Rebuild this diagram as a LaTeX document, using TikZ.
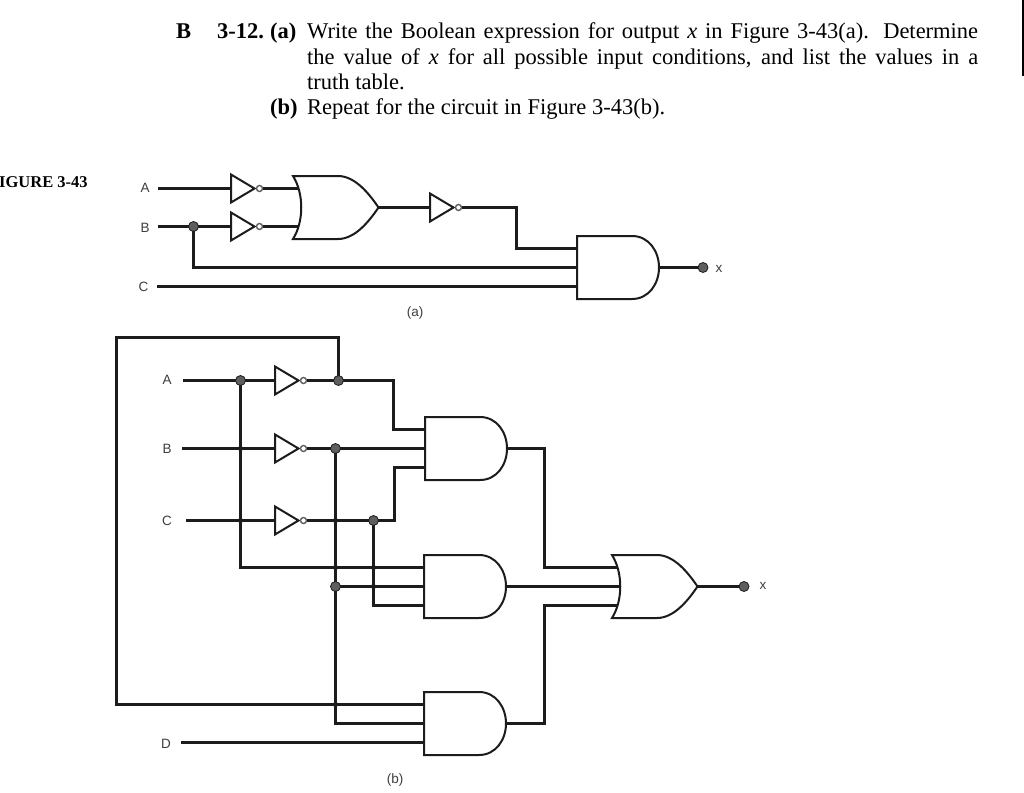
\documentclass[tikz,border=0pt]{standalone}
\usepackage{fontspec}
\setmainfont{Liberation Serif}
\newfontfamily\lblfont{Liberation Sans}
\definecolor{ink}{HTML}{1C1C1C}
\definecolor{dotgray}{HTML}{5E5E5E}
\tikzset{
  wire/.style={draw=ink,line width=2.6pt,line join=miter},
  gateline/.style={draw=ink,line width=2pt,fill=white,line join=miter},
  bigdot/.style={circle,inner sep=0pt,minimum size=11pt},
  smalldot/.style={circle,fill=ink,inner sep=0pt,minimum size=5pt},
  bubble/.style={draw=dotgray,line width=1.4pt,fill=white},
  lbl/.style={font=\lblfont\fontsize{13.5}{15}\selectfont,text=ink!85,inner sep=0pt},
  body/.style={font=\fontsize{22.5}{26}\selectfont,text=black,inner sep=0pt,anchor=base west}
}
% name, left x, centre y
\newcommand{\andgate}[3]{%
  \draw[gateline] (#2,#3-31.5) -- (#2+55,#3-31.5)
    .. controls (#2+72,#3-31.5) and (#2+82,#3-16) .. (#2+82,#3)
    .. controls (#2+82,#3+16) and (#2+72,#3+31.5) .. (#2+55,#3+31.5)
    -- (#2,#3+31.5) -- cycle;
  \coordinate (#1-i1) at (#2,#3-19);
  \coordinate (#1-i2) at (#2,#3);
  \coordinate (#1-i3) at (#2,#3+19);
  \coordinate (#1-o) at (#2+82,#3);}
\newcommand{\orgate}[3]{%
  \draw[gateline] (#2,#3-31.5) -- (#2+45,#3-31.5)
    .. controls (#2+62,#3-31.5) and (#2+76,#3-14) .. (#2+85.5,#3)
    .. controls (#2+76,#3+14) and (#2+62,#3+31.5) .. (#2+45,#3+31.5)
    -- (#2,#3+31.5)
    .. controls (#2+11,#3+14) and (#2+11,#3-14) .. (#2,#3-31.5) -- cycle;
  \coordinate (#1-i1) at (#2+5,#3-19);
  \coordinate (#1-i2) at (#2+8,#3);
  \coordinate (#1-i3) at (#2+5,#3+19);
  \coordinate (#1-o) at (#2+85.5,#3);}
\newcommand{\notgate}[3]{%
  \draw[gateline] (#2,#3-14) -- (#2,#3+14) -- (#2+23.5,#3) -- cycle;
  \draw[bubble] (#2+28.5,#3) circle (3);
  \coordinate (#1-i) at (#2,#3);
  \coordinate (#1-o) at (#2+31.5,#3);}
\begin{document}
\begin{tikzpicture}[x=1pt,y=-1pt]
\useasboundingbox (0,0) rectangle (1024,792);
\fill[white] (0,0) rectangle (1024,792);
\fill[black] (1022,0) rectangle (1024,76);

% problem text
\node[body] (tB) at (176,39) {\textbf{B}};
\node[body] (tnum) at (217,39) {\textbf{3-12.}};
\node[body] (tpa) at (270,39) {\textbf{(a)}};
\node[body] (tl1) at (307,39) {\makebox[671pt][s]{Write the Boolean expression for output \textit{x} in Figure 3-43(a). Determine}};
\node[body] (tl2) at (307,64) {\makebox[671pt][s]{the value of \textit{x} for all possible input conditions, and list the values in a}};
\node[body] (tl3) at (307,89) {truth table.};
\node[body] (tpb) at (270,114) {\textbf{(b)}};
\node[body] (tl4) at (307,114) {\makebox[358pt][s]{Repeat for the circuit in Figure 3-43(b).}};
\node[body,font=\bfseries\fontsize{16.5}{20}\selectfont] (tfig) at (-1,187) {IGURE 3-43};

% ---------- circuit (a) ----------
\coordinate (aAs) at (158,188.5);
\coordinate (aBs) at (158,226.5);
\coordinate (aCs) at (157,286.5);
\node[lbl] (aAl) at (145,188) {A};
\node[lbl] (aBl) at (145,228) {B};
\node[lbl] (aCl) at (143.5,287) {C};
\notgate{an1}{231}{188.5}
\notgate{an2}{231}{226.5}
\orgate{ao}{293}{207.5}
\notgate{an3}{430}{207.5}
\andgate{aa}{577}{267.5}
\node[bigdot] (aj) at (193.5,226.5) {};
\node[bigdot] (aout) at (703,267.5) {};
\coordinate (ak1) at (516.5,207.5);
\node[lbl] (axl) at (719,269) {x};
\node[lbl] (acap) at (415,313) {(a)};
\draw[wire] (aAs) -- (an1-i);
\draw[wire] (aBs) -- (aj.center) -- (an2-i);
\draw[wire] (an1-o) -- (ao-i1);
\draw[wire] (an2-o) -- (ao-i3);
\draw[wire] (ao-o) -- (an3-i);
\draw[wire] (an3-o) -- (ak1) |- (aa-i1);
\draw[wire] (aj.center) |- (aa-i2);
\draw[wire] (aCs) -- (aa-i3);
\draw[wire] (aa-o) -- (aout.center);

% ---------- circuit (b) ----------
\coordinate (bAs) at (183,380.5);
\coordinate (bBs) at (182,448.5);
\coordinate (bCs) at (186,520.5);
\coordinate (bDs) at (181,742.5);
\node[lbl] (bAl) at (167,380) {A};
\node[lbl] (bBl) at (167,449) {B};
\node[lbl] (bCl) at (167,521) {C};
\node[lbl] (bDl) at (166,744) {D};
\notgate{bn1}{275}{380.5}
\notgate{bn2}{275}{448.5}
\notgate{bn3}{275}{520.5}
\andgate{g1}{425}{448.5}
\andgate{g2}{424}{586.5}
\andgate{g3}{424}{723.5}
\orgate{go}{612}{586.5}
\node[bigdot] (jA) at (240.5,380.5) {};
\node[bigdot] (jAn) at (338.5,380.5) {};
\node[bigdot] (jBn) at (335.5,448.5) {};
\node[bigdot] (jCn) at (373.5,520.5) {};
\node[bigdot] (jL) at (335.5,586.5) {};
\node[bigdot] (bout) at (744,586.5) {};
\node[lbl] (bxl) at (763,586) {x};
\node[lbl] (bcap) at (395,780) {(b)};
% small junctions
\node[smalldot] (s1) at (240.5,448.5) {};
\node[smalldot] (s2) at (240.5,520.5) {};
\node[smalldot] (s3) at (335.5,520.5) {};
\node[smalldot] (s4) at (335.5,567.5) {};
\node[smalldot] (s5) at (373.5,567.5) {};
\node[smalldot] (s6) at (373.5,586.5) {};
\node[smalldot] (s7) at (335.5,704.5) {};
% bends
\coordinate (lt) at (116.5,337.5);
\coordinate (rt) at (338.5,337.5);
\coordinate (lb) at (116.5,704.5);
\coordinate (k1) at (393.5,380.5);
\coordinate (k2) at (394.5,520.5);
\coordinate (k3) at (240.5,567.5);
\coordinate (k4) at (373.5,605.5);
\coordinate (k5) at (335.5,723.5);
\coordinate (k6) at (544.5,448.5);
\coordinate (k7) at (544.5,723.5);
% wires
\draw[wire] (bAs) -- (jA.center) -- (bn1-i);
\draw[wire] (bBs) -- (s1.center) -- (bn2-i);
\draw[wire] (bCs) -- (s2.center) -- (bn3-i);
\draw[wire] (bDs) -- (g3-i3);
\draw[wire] (bn1-o) -- (jAn.center) -- (k1) |- (g1-i1);
\draw[wire] (bn2-o) -- (jBn.center) -- (g1-i2);
\draw[wire] (bn3-o) -- (s3.center) -- (jCn.center) -- (k2) |- (g1-i3);
\draw[wire] (jA.center) -- (k3) -- (s4.center) -- (s5.center) -- (g2-i1);
\draw[wire] (jBn.center) -- (jL.center) -- (k5) -- (g3-i2);
\draw[wire] (jCn.center) -- (k4) -- (g2-i3);
\draw[wire] (jL.center) -- (s6.center) -- (g2-i2);
\draw[wire] (jAn.center) -- (rt) -- (lt) -- (lb) -- (s7.center) -- (g3-i1);
\draw[wire] (g1-o) -- (k6) |- (go-i1);
\draw[wire] (g2-o) -- (go-i2);
\draw[wire] (g3-o) -- (k7) |- (go-i3);
\draw[wire] (go-o) -- (bout.center);
% junction dots on top of wires
\foreach \n in {aj,aout,jA,jAn,jBn,jCn,jL,bout}
  \fill[dotgray,draw=ink,line width=0.8pt] (\n.center) circle (5);
\end{tikzpicture}
\end{document}
